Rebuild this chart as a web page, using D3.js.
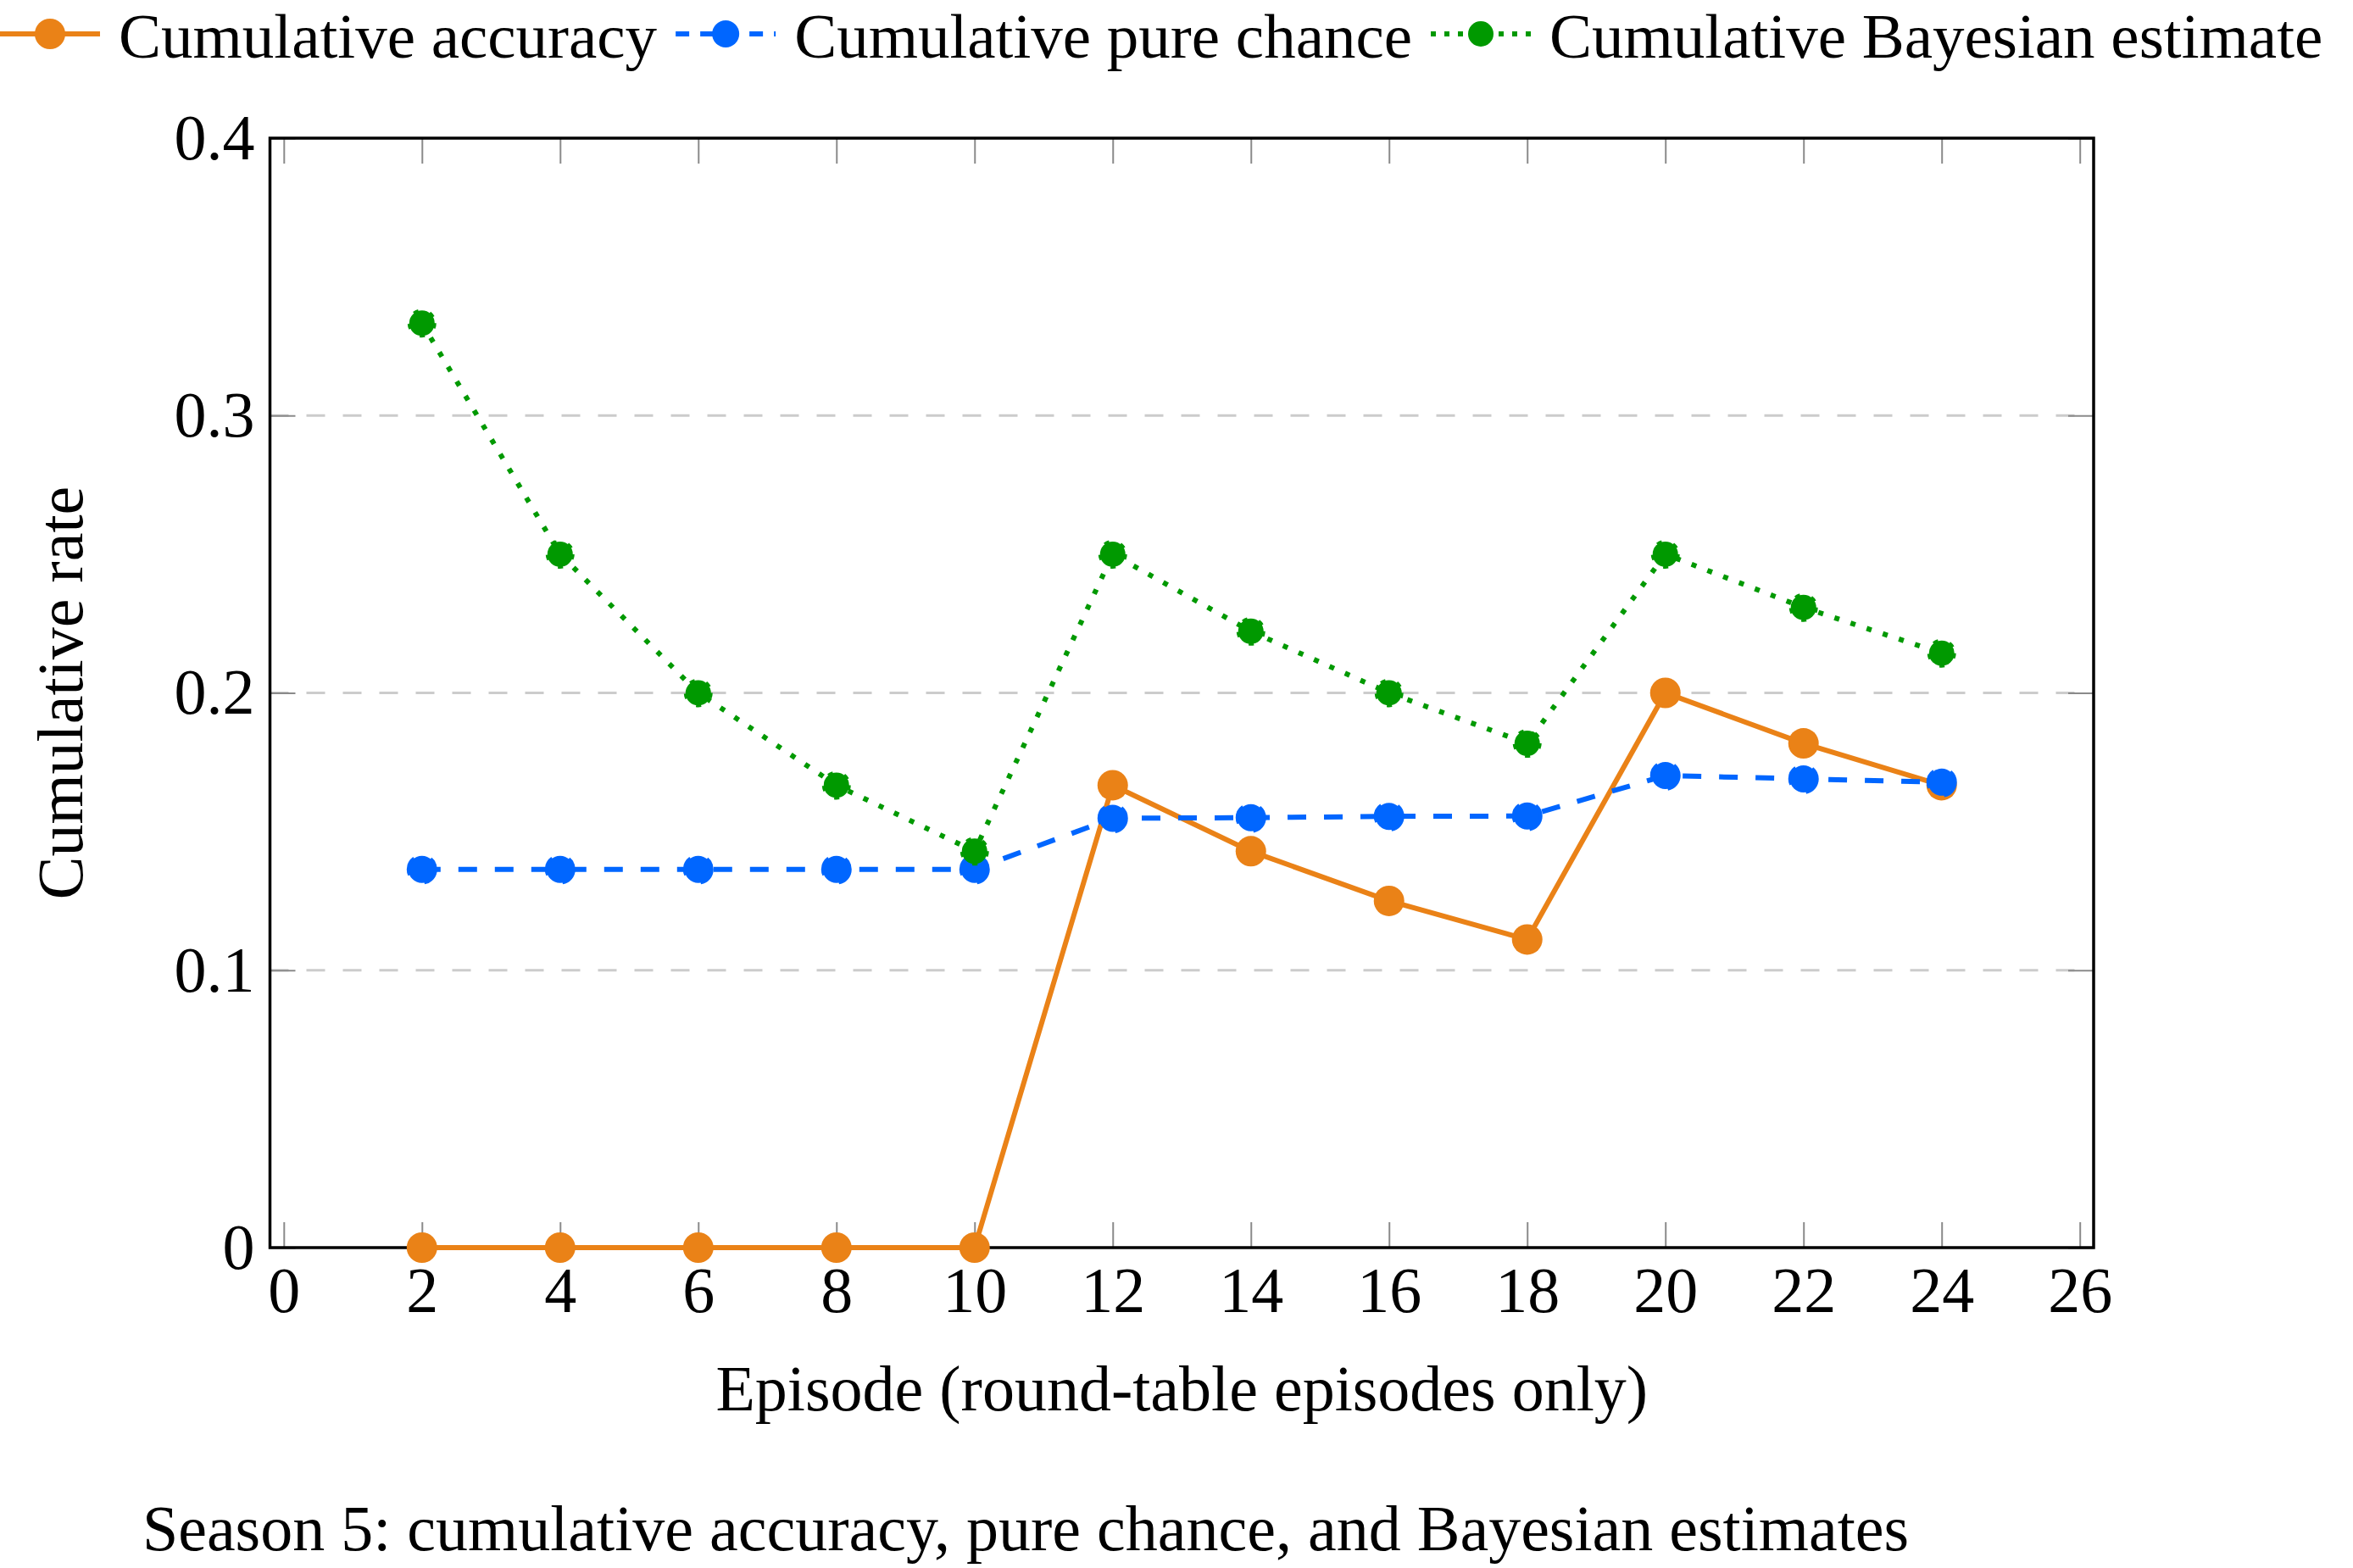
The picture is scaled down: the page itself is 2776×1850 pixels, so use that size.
<!DOCTYPE html>
<html>
<head>
<meta charset="utf-8">
<script src="https://cdn.jsdelivr.net/npm/d3@7"></script>
<style>
  body { margin: 0; background: #fff; }
  text { font-family: "Liberation Serif", "DejaVu Serif", serif; fill: #000; }
</style>
</head>
<body>
<svg id="chart" width="2776" height="1850"></svg>
<script>
// data
var episodes = [2, 4, 6, 8, 10, 12, 14, 16, 18, 20, 22, 24];
var accuracy = [0, 0, 0, 0, 0, 0.1667, 0.1429, 0.125, 0.1111, 0.2, 0.1818, 0.1667];
var pureChance = [0.1364, 0.1364, 0.1364, 0.1364, 0.1364, 0.1548, 0.155, 0.1555, 0.1556, 0.1702, 0.169, 0.1678];
var bayesian = [0.3333, 0.25, 0.2, 0.1667, 0.1429, 0.25, 0.2222, 0.2, 0.1818, 0.25, 0.2308, 0.2143];
var xTicks = [0, 2, 4, 6, 8, 10, 12, 14, 16, 18, 20, 22, 24, 26];
var yTicks = [0, 0.1, 0.2, 0.3, 0.4];
var seriesNames = ["Cumulative accuracy", "Cumulative pure chance", "Cumulative Bayesian estimate"];

var svg = d3.select("#chart"),
    plotLeft = 318.5, plotRight = 2470, plotTop = 163, plotBottom = 1472,
    fontSize = 76;

var xScale = d3.scaleLinear().domain([-0.2, 26.2]).range([plotLeft, plotRight]),
    yScale = d3.scaleLinear().domain([0, 0.4]).range([plotBottom, plotTop]);

// series styles
var series = [
  { name: seriesNames[0], values: accuracy, color: "#ea8217", width: 6, dash: null, r: 18 },
  { name: seriesNames[1], values: pureChance, color: "#0066ff", width: 6, dash: "22 21", r: 16 },
  { name: seriesNames[2], values: bayesian, color: "#009900", width: 6, dash: "6 14", r: 15 }
];

// grid lines
svg.append("g").selectAll("line")
  .data(yTicks.filter(function(d) { return d > 0 && d < 0.4; }))
  .enter().append("line")
  .attr("x1", plotLeft).attr("x2", plotRight)
  .attr("y1", function(d) { return yScale(d); })
  .attr("y2", function(d) { return yScale(d); })
  .attr("stroke", "#cccccc")
  .attr("stroke-width", 3)
  .attr("stroke-dasharray", "22 21");

// axes with inner ticks on all four sides
function styleAxis(g) {
  g.select(".domain").remove();
  g.selectAll(".tick line").attr("stroke", "#8a8a8a").attr("stroke-width", 2);
  g.selectAll("text").style("font-size", fontSize + "px")
   .style("font-family", "'Liberation Serif', serif");
}

svg.append("g")
  .attr("transform", "translate(0," + plotBottom + ")")
  .call(d3.axisBottom(xScale).tickValues(xTicks).tickSizeInner(-30).tickSizeOuter(0).tickPadding(22))
  .call(styleAxis);

svg.append("g")
  .attr("transform", "translate(0," + plotTop + ")")
  .call(d3.axisTop(xScale).tickValues(xTicks).tickSizeInner(-30).tickSizeOuter(0).tickFormat(""))
  .call(styleAxis);

svg.append("g")
  .attr("transform", "translate(" + plotLeft + ",0)")
  .call(d3.axisLeft(yScale).tickValues(yTicks).tickSizeInner(-30).tickSizeOuter(0).tickPadding(18)
    .tickFormat(function(d) { return d === 0 ? "0" : d3.format(".1f")(d); }))
  .call(styleAxis);

svg.append("g")
  .attr("transform", "translate(" + plotRight + ",0)")
  .call(d3.axisRight(yScale).tickValues(yTicks).tickSizeInner(-30).tickSizeOuter(0).tickFormat(""))
  .call(styleAxis);

// frame
svg.append("rect")
  .attr("x", plotLeft).attr("y", plotTop)
  .attr("width", plotRight - plotLeft).attr("height", plotBottom - plotTop)
  .attr("fill", "none").attr("stroke", "#000").attr("stroke-width", 3.5);

// lines and markers
var line = d3.line()
  .x(function(d, i) { return xScale(episodes[i]); })
  .y(function(d) { return yScale(d); });

series.forEach(function(s) {
  var g = svg.append("g");
  g.append("path")
   .attr("d", line(s.values))
   .attr("fill", "none")
   .attr("stroke", s.color)
   .attr("stroke-width", s.width)
   .attr("stroke-dasharray", s.dash);
  g.selectAll("circle")
   .data(s.values)
   .enter().append("circle")
   .attr("cx", function(d, i) { return xScale(episodes[i]); })
   .attr("cy", function(d) { return yScale(d); })
   .attr("r", s.r)
   .attr("fill", s.color)
   .attr("stroke", s.dash ? s.color : "none")
   .attr("stroke-width", 4)
   .attr("stroke-dasharray", s.dash);
});

// legend across the top
var lx = 0, ly = 40;
series.forEach(function(s, i) {
  var g = svg.append("g").attr("transform", "translate(" + lx + "," + ly + ")");
  g.append("line")
   .attr("x1", 0).attr("x2", 118).attr("y1", 0).attr("y2", 0)
   .attr("stroke", s.color).attr("stroke-width", 6)
   .attr("stroke-dasharray", s.dash ? (i == 1 ? "16 13" : "6 10") : null);
  g.append("circle")
   .attr("cx", 59).attr("cy", 0).attr("r", s.r)
   .attr("fill", s.color);
  var t = g.append("text")
   .attr("x", 140).attr("y", 28)
   .style("font-size", "75px")
   .text(s.name);
  lx += 140 + t.node().getComputedTextLength() + 22;
});

// axis titles
svg.append("text")
  .attr("x", (plotLeft + plotRight) / 2).attr("y", 1664)
  .attr("text-anchor", "middle")
  .style("font-size", fontSize + "px")
  .text("Episode (round-table episodes only)");

svg.append("text")
  .attr("transform", "translate(97," + ((plotTop + plotBottom) / 2) + ") rotate(-90)")
  .attr("text-anchor", "middle")
  .style("font-size", fontSize + "px")
  .text("Cumulative rate");

// caption
svg.append("text")
  .attr("x", 1210).attr("y", 1829)
  .attr("text-anchor", "middle")
  .style("font-size", fontSize + "px")
  .text("Season 5: cumulative accuracy, pure chance, and Bayesian estimates");
</script>
</body>
</html>
